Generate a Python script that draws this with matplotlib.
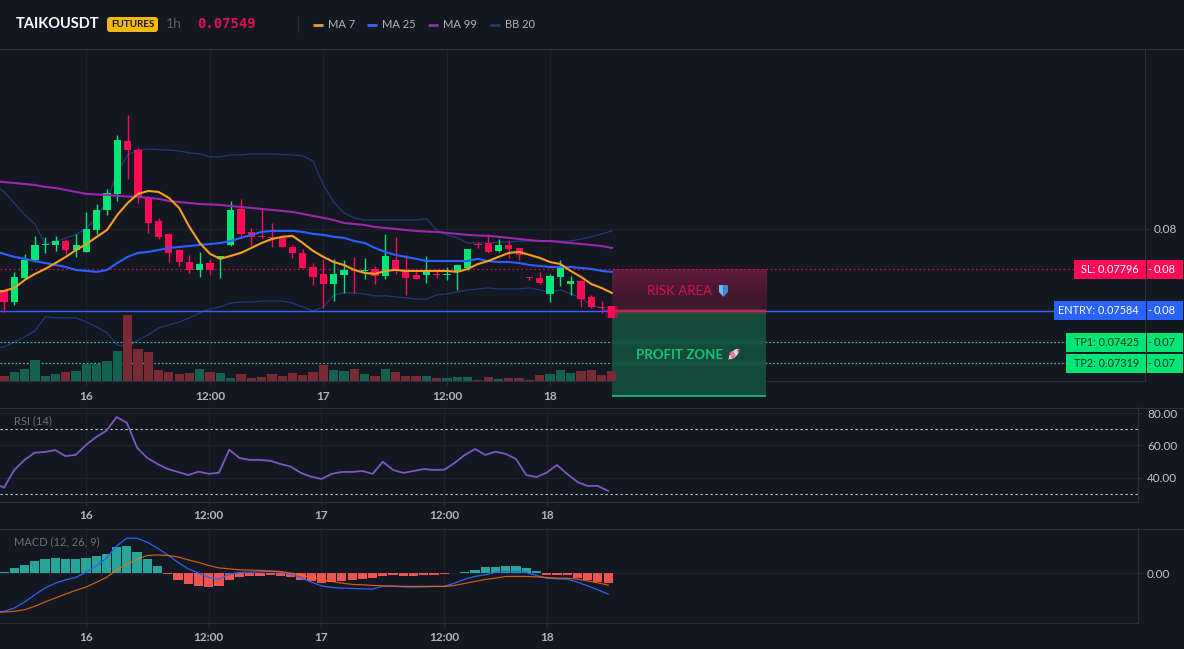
import numpy as np
import matplotlib
matplotlib.use("Agg")
import matplotlib.pyplot as plt
from matplotlib.patches import Rectangle, FancyBboxPatch, Polygon, Ellipse
from matplotlib.transforms import IdentityTransform

# prices are written in units of 0.00001
opens = [7685,7629,7751,7841,7917,7917,7937,7892,7882,7993,8094,8175,8442,8397,8155,8038,7973,7892,7831,7791,7826,7847,7917,8099,7983,7963,7958,7953,7907,7877,7806,7771,7720,7766,7791,7786,7796,7761,7841,7786,7766,7766,7771,7766,7786,7801,7922,7927,7887,7917,7902,7756,7751,7670,7756,7720,7735,7655,7604,7609]
highs = [7685,7781,7872,7963,7958,7963,7947,7973,8084,8124,8200,8473,8574,8407,8165,8054,7978,7897,7867,7882,7847,7862,8139,8150,8003,8099,8028,7968,7917,7897,7826,7847,7847,7841,7857,7852,7811,7973,7958,7867,7786,7862,7791,7806,7816,7897,7932,7973,7947,7942,7902,7756,7781,7771,7841,7761,7740,7665,7634,7609]
lows = [7579,7614,7745,7831,7877,7887,7872,7857,7882,7973,8069,8139,8250,8129,7978,7947,7831,7811,7776,7756,7766,7751,7912,7958,7917,7953,7907,7907,7852,7801,7715,7599,7634,7675,7675,7745,7720,7745,7771,7665,7745,7725,7751,7740,7690,7791,7902,7877,7882,7852,7841,7740,7720,7629,7710,7665,7604,7599,7574,7549]
closes = [7629,7756,7841,7917,7922,7937,7892,7917,7998,8094,8180,8447,8397,8165,8028,7958,7877,7831,7791,7821,7791,7862,8094,7973,7958,7958,7953,7907,7877,7801,7756,7720,7771,7791,7786,7791,7761,7862,7786,7751,7745,7786,7766,7771,7816,7896,7917,7882,7917,7897,7867,7751,7725,7761,7801,7735,7644,7604,7601,7549]
volume = [5,9,12,21,5,7,9,10,17,17,20,30,66,32,29,11,9,7,8,12,9,8,3,7,3,4,7,5,8,6,9,16,11,10,12,7,5,12,9,5,5,5,3,3,4,4,1,4,2,3,3,1,6,7,11,8,10,11,6,10]
macd_hist = [1.3,4.7,8.3,12.3,14.3,15.3,14.3,14.3,15.3,17.3,19.3,26.3,27.3,21.3,14.3,7.3,-0.7,-6.7,-10.7,-12.7,-13.7,-12.7,-6.7,-3.7,-2.7,-2.7,-1.7,-2.7,-3.7,-6.7,-7.7,-9.7,-8.7,-7.7,-6.7,-5.7,-4.7,-2.7,-1.7,-2.7,-2.7,-2,-1.7,-0.7,0.5,1.3,3.3,6.3,6.3,7.3,7.3,5.3,2.3,-1.7,-1.7,-1.7,-4.7,-6.7,-8.7,-9.7]

# the line series start one bar earlier, left of the visible candles
ma7 = [7680,7685,7700,7740,7771,7796,7826,7857,7892,7922,7958,7993,8069,8129,8175,8190,8185,8155,8104,8008,7927,7872,7847,7862,7877,7902,7927,7947,7958,7963,7927,7887,7857,7831,7816,7791,7776,7771,7786,7791,7786,7786,7786,7786,7786,7781,7796,7821,7836,7857,7877,7882,7867,7852,7831,7821,7786,7756,7720,7700,7675]
ma25 = [7887,7872,7857,7847,7836,7826,7816,7806,7791,7786,7781,7791,7826,7857,7877,7882,7892,7902,7907,7912,7917,7922,7927,7937,7953,7968,7983,7988,7988,7988,7983,7973,7968,7958,7953,7937,7927,7902,7882,7867,7857,7847,7836,7836,7836,7836,7836,7847,7836,7831,7831,7826,7816,7811,7806,7806,7806,7801,7796,7786,7781]
ma99 = [8240,8235,8230,8225,8220,8210,8205,8195,8185,8175,8172,8170,8165,8162,8160,8155,8150,8139,8134,8129,8124,8122,8119,8114,8109,8104,8099,8094,8089,8084,8074,8064,8054,8043,8028,8023,8018,8008,8003,7998,7993,7988,7985,7983,7978,7973,7968,7965,7963,7958,7953,7947,7942,7937,7937,7932,7927,7922,7917,7912,7902]
bb_up = [8225,8185,8129,8069,8023,7922,7932,7953,7968,8003,8054,8144,8286,8372,8397,8402,8399,8397,8392,8382,8377,8362,8362,8372,8372,8377,8377,8377,8374,8372,8367,8341,8220,8134,8079,8054,8043,8043,8043,8043,8043,8043,8049,7993,7968,7953,7927,7927,7927,7932,7932,7937,7937,7937,7937,7937,7937,7947,7958,7973,7988]
bb_low = [7397,7402,7427,7453,7483,7554,7549,7549,7549,7528,7503,7473,7412,7402,7437,7463,7498,7513,7528,7549,7574,7594,7604,7624,7629,7629,7634,7634,7634,7624,7604,7584,7604,7665,7675,7675,7670,7660,7660,7655,7650,7644,7644,7665,7670,7680,7690,7695,7700,7695,7695,7695,7700,7690,7680,7690,7670,7650,7614,7599,7569]
rsi = [36.9,34.0,44.9,51.1,55.6,56,57.2,53.5,54.2,60.3,65.2,69.1,77.5,74,58.6,52.3,48.6,45.5,43.7,41.8,43.9,42.5,43.3,57.4,52.3,51.1,51.1,50.6,48.6,47,43.1,40.8,39.4,42.5,43.7,43.7,44.3,42.5,50,44.9,43.1,44.3,45.5,44.9,45.1,49.2,54.2,57.8,54.2,56.2,54.8,51.7,41.8,40.6,43.3,48,42.5,37.5,35.1,35.1,32]
macd_line = [-39,-38.3,-35,-29,-21.7,-15,-10,-6.7,-4.3,0.7,7.3,15,27.3,35,35,31,25,18.3,10.7,4.3,0,-4.3,-6,-1,0.7,1,1.3,1.7,1,-1,-4.3,-9,-12.7,-14.3,-15,-15.3,-15.7,-16,-13,-13,-13.7,-14,-13.7,-13.3,-13.3,-10,-6,-3.3,-1.7,0.7,1.7,1.7,0.7,-2.3,-5,-5.7,-6,-9,-12.7,-16.7,-21]
signal_line = [-39.5,-39,-38.3,-36.7,-33.3,-29,-25,-21,-17.3,-14,-9.3,-4.3,3.3,9,14,17.7,18.3,17.7,16.3,13.3,10.7,7.7,5.3,4.3,3.3,3,2.7,2.3,1.7,0,-2,-4.3,-6.7,-8.3,-10,-11.3,-11.7,-12.3,-12.7,-13,-13.3,-13.3,-13.3,-13.3,-13.3,-12.3,-10.3,-8.3,-6.3,-5,-3.3,-3.3,-3.3,-3.7,-4.3,-5,-5,-6,-7.7,-9.7,-12]

tick_idx = [8,20,31,43,53]
tick_labels = ["16","12:00","17","12:00","18"]
sl = 0.07796
entry = 0.07584
tp1 = 0.07425
tp2 = 0.07319
last_price = "0.07549"
zone_bottom = 0.07155
zone_x = [59,74]

BG = "#131722"
GRID = "#1e222d"
EDGE = "#2a2e39"
UP = "#00e676"
DOWN = "#ff0a54"
TXT = "#b2b5be"
MONO = 'DejaVu Sans Mono'
W, H = 1184, 649
PX = IdentityTransform()

plt.rcParams['font.family'] = ['Lato','DejaVu Sans']

def to_price(v):
    return np.array(v)*1e-5

def pane(top, bottom, right, pad):
    ax = fig.add_axes([0, 1-bottom/H, right/W, (bottom-top)/H])
    ax.set_facecolor(BG)
    ax.set_xlim(-0.39, 110.75)
    for s in ['top','left']:
        ax.spines[s].set_visible(False)
    ax.spines['bottom'].set_color(EDGE)
    ax.spines['right'].set_color(EDGE)
    ax.set_xticks(tick_idx)
    ax.set_xticklabels(tick_labels, color=TXT, fontsize=8.5, fontweight='bold')
    ax.tick_params(axis='x', length=3, color=EDGE, pad=pad)
    ax.tick_params(axis='y', length=3, color=EDGE, labelcolor="#c2c5cc", labelsize=8.5, pad=3.5)
    ax.yaxis.tick_right()
    ax.grid(True, color=GRID, lw=0.8)
    ax.set_axisbelow(True)
    return ax

def clean_twin(parent):
    t = parent.twinx()
    t.set_yticks([])
    for s in t.spines.values():
        s.set_visible(False)
    return t

fig = plt.figure(figsize=(W/100, H/100), dpi=100, facecolor=BG)
x = np.arange(len(closes))
xl = np.arange(-1, len(closes))
o, h, l, c = to_price(opens), to_price(highs), to_price(lows), to_price(closes)
is_up = c >= o
colors = [UP if u else DOWN for u in is_up]

# main pane
ax = pane(49, 381, 1145, 4.3)
ax.set_ylim(0.07230, 0.08907)
ax.set_yticks([0.08])
ax.set_yticklabels(["0.08"])

price = clean_twin(ax)
price.set_ylim(ax.get_ylim())
price.set_zorder(1)

# volume on its own scale in the same pane, above the zones
vol = clean_twin(ax)
vol.set_ylim(0, 332)
vol.set_zorder(2)
vol.bar(x, volume, width=0.9, color=["#14614f" if u else "#7a2a35" for u in is_up])
ax.yaxis.tick_right()

price.plot(xl, to_price(bb_up), color="#1e3a78", lw=0.9, zorder=2)
price.plot(xl, to_price(bb_low), color="#1e3a78", lw=0.9, zorder=2)

price.axhline(sl, color=DOWN, lw=0.9, ls=(0,(1.5,2)), alpha=0.75, zorder=3.5)
price.axhline(entry, color="#2f66f5", lw=1.0, zorder=2)
price.axhline(tp1, color="#4fe3a5", lw=0.9, ls=(0,(1.5,1.5)), alpha=0.8, zorder=2)
price.axhline(tp2, color="#4fe3a5", lw=0.9, ls=(0,(1.5,1.5)), alpha=0.8, zorder=2)

# risk and profit zones
risk_grad = np.array([[[92,26,60]],[[80,24,54]],[[68,24,48]],[[60,24,44]]], dtype=np.uint8)
price.imshow(risk_grad, extent=[zone_x[0], zone_x[1], entry, sl], aspect='auto', interpolation='bilinear', zorder=3)
price.set_xlim(ax.get_xlim())
price.set_ylim(ax.get_ylim())
price.add_patch(Rectangle((zone_x[0], zone_bottom), zone_x[1]-zone_x[0], entry-zone_bottom, color="#134a3a", lw=0, zorder=3, clip_on=False))
for lv in [tp1, tp2]:
    price.plot(zone_x, [lv, lv], color="#1e6a50", lw=6, alpha=0.12, zorder=3.1, solid_capstyle='butt')
    price.plot(zone_x, [lv, lv], color="#1e6a50", lw=2.5, alpha=0.25, zorder=3.1, solid_capstyle='butt')
price.plot(zone_x, [entry, entry], color="#ff2a6a", lw=3.5, alpha=0.25, zorder=3.2, solid_capstyle='butt')
price.plot(zone_x, [entry, entry], color="#d0305f", lw=1.1, zorder=3.2, solid_capstyle='butt')
price.plot(zone_x, [zone_bottom, zone_bottom], color="#1fd080", lw=1.1, zorder=3.2, clip_on=False, solid_capstyle='butt')

price.vlines(x, l, h, colors=colors, lw=1, zorder=4)
price.bar(x, np.maximum(np.abs(c-o), 0.00003), bottom=np.minimum(o, c), width=0.7, color=colors, zorder=4.1)
# soft glow on the candle that sits on the zone edge
price.bar(x[-1], o[-1]-c[-1], bottom=c[-1], width=1.1, color=DOWN, alpha=0.35, zorder=4)

price.plot(xl, to_price(ma99), color="#9c27b0", lw=1.5, zorder=5)
price.plot(xl, to_price(ma25), color="#2962ff", lw=1.5, zorder=5)
price.plot(xl, to_price(ma7), color="#f7a020", lw=1.5, zorder=5)

zone_mid = sum(zone_x)/2
price.text(zone_mid-0.9, (sl+entry)/2-0.00007, "RISK AREA", color="#d6114f", fontsize=9.5, ha='center', va='center', zorder=8)
price.text(zone_mid-0.9, (entry+zone_bottom)/2-0.00007, "PROFIT ZONE", color="#14c878", fontsize=9.5, fontweight='bold', ha='center', va='center', zorder=8)

# shield and rocket signs inside the zones
fig.add_artist(Polygon([(719,H-285),(723.5,H-285),(723.5,H-297),(719,H-292)], transform=PX, color="#6db6f5", lw=0, zorder=6))
fig.add_artist(Polygon([(723.5,H-285),(728,H-285),(728,H-292),(723.5,H-297)], transform=PX, color="#3f86d8", lw=0, zorder=6))
fig.add_artist(Polygon([(728,H-360),(730,H-355),(733,H-358)], transform=PX, color="#f0a030", lw=0, zorder=6))
fig.add_artist(Ellipse((734,H-354), 13, 6, angle=45, transform=PX, color="#d8d8e2", lw=0, zorder=6))
fig.add_artist(Polygon([(737,H-351),(740,H-348),(739,H-353)], transform=PX, color="#e04060", lw=0, zorder=7))
fig.add_artist(Polygon([(729,H-352),(733,H-351),(736,H-356),(732,H-359)], transform=PX, color="#e8608a", lw=0, alpha=0.8, zorder=7))

# labels on the right
def tag(text, val, top, bottom, color, fg, left):
    y = (top+bottom)/2
    fig.add_artist(Rectangle((left, H-bottom), 1183-left, bottom-top, transform=PX, color=color, lw=0, zorder=10))
    fig.add_artist(plt.Line2D([1145.5,1145.5], [H-top,H-bottom], transform=PX, color="#20242e", lw=0.8, zorder=11))
    fig.text(1139/W, 1-y/H, text, color=fg, fontsize=7.8, ha='right', va='center', zorder=11)
    fig.text(1149/W, 1-y/H, "-", color=fg, fontsize=8, ha='center', va='center', zorder=11)
    fig.text(1165/W, 1-y/H, val, color=fg, fontsize=8, ha='center', va='center', zorder=11)

tag("SL: 0.07796", "0.08", 260, 279, "#ff0a54", "white", 1074)
tag("ENTRY: 0.07584", "0.08", 301, 320, "#2962ff", "white", 1054)
tag("TP1: 0.07425", "0.07", 333, 352, "#00e676", "#0c3a28", 1066)
tag("TP2: 0.07319", "0.07", 354, 373, "#00e676", "#0c3a28", 1066)

# rsi pane
ax2 = pane(407, 502, 1138, 2.8)
ax2.set_ylim(25.2, 83.7)
ax2.set_yticks([40,60,80])
ax2.set_yticklabels(["40.00","60.00","80.00"])
ax2.axhline(70, color="#c8ccd4", lw=0.8, ls=(0,(2,2.5)))
ax2.axhline(30, color="#c8ccd4", lw=0.8, ls=(0,(2,2.5)))
ax2.plot(xl, rsi, color="#7e57c2", lw=1.3)
ax2.text(0.012, 0.853, "RSI (14)", transform=ax2.transAxes, color="#6d717c", fontsize=8, va='center')

# macd pane
ax3 = pane(528, 623, 1138, 3.5)
ax3.set_ylim(-50e-5, 45.3e-5)
ax3.set_yticks([0])
ax3.set_yticklabels(["0.00"])
hist = to_price(macd_hist)
ax3.bar(x, hist, width=0.9, color=["#26a69a" if v >= 0 else "#ef5350" for v in hist], zorder=2)
ax3.plot(xl, to_price(macd_line), color="#2962ff", lw=0.9, zorder=3)
ax3.plot(xl, to_price(signal_line), color="#ff6d00", lw=0.9, alpha=0.8, zorder=3)
ax3.text(0.012, 0.853, "MACD (12, 26, 9)", transform=ax3.transAxes, color="#6d717c", fontsize=8, va='center')

# header and pane separators
for py in [48.5, 407.5, 528.5]:
    fig.add_artist(plt.Line2D([0,W], [H-py]*2, transform=PX, color=EDGE, lw=0.8))
fig.text(16/W, 1-24.5/H, "TAIKOUSDT", color="white", fontsize=10.5, fontweight='bold', va='center')
fig.add_artist(FancyBboxPatch((107,H-32), 51, 15, boxstyle="round,pad=0,rounding_size=3", transform=PX, color="#f0b90b", lw=0))
fig.text(132.5/W, 1-24.5/H, "FUTURES", color="#131722", fontsize=7, ha='center', va='center', fontweight='bold')
fig.text(166/W, 1-24.5/H, "1h", color="#5d616c", fontsize=10, va='center')
fig.text(197/W, 1-24.5/H, last_price, color="#e0104e", fontsize=10, family=MONO, fontweight='bold', va='center')
fig.add_artist(plt.Line2D([297.5,297.5], [H-17,H-32], transform=PX, color=EDGE, lw=0.8))
legend_items = [("MA 7","#e8a040",313),("MA 25","#3a66e8",367),("MA 99","#8e2fa8",428),("BB 20","#1e3a78",490)]
for name, col, px in legend_items:
    fig.add_artist(plt.Line2D([px,px+10], [H-24.5]*2, transform=PX, color=col, lw=2, solid_capstyle='butt'))
    fig.text((px+15)/W, 1-24.5/H, name, color=TXT, fontsize=8, va='center')

fig.savefig("out.png", dpi=100, facecolor=BG)
